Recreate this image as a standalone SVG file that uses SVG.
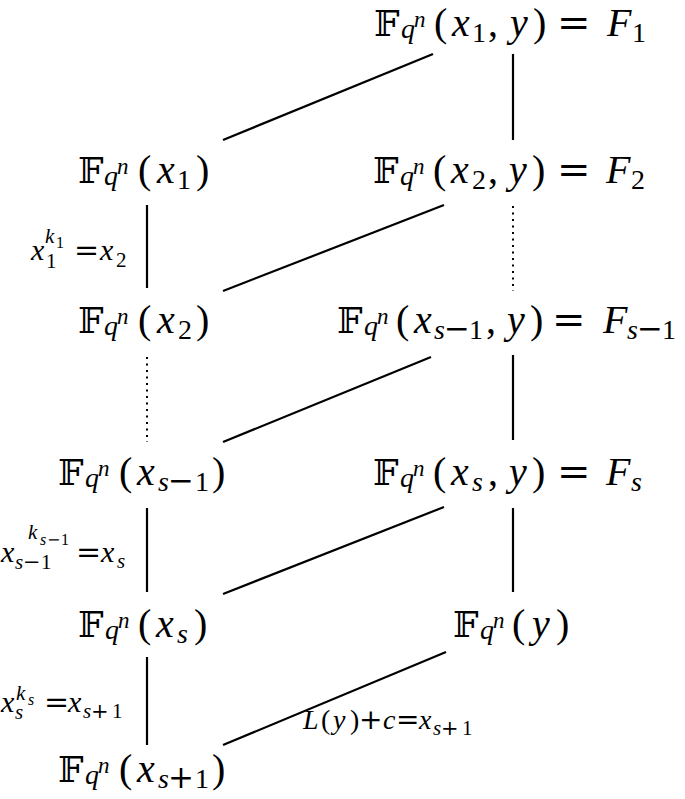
<svg xmlns="http://www.w3.org/2000/svg" width="685" height="799" viewBox="0 0 685 799">
<style>
text{font-family:"Liberation Serif","DejaVu Serif",serif;fill:#000}
.m{font-size:40px}
.bb{font-family:"DejaVu Serif","DejaVu Sans",serif;font-size:36px}
.op{font-family:"DejaVu Serif","DejaVu Sans",serif}
.i{font-style:italic}
.s{font-size:28px}
.ss{font-size:23px}
.sm{font-size:31px}
.lb{font-size:30px}
.l2{font-size:21px}
.l3{font-size:16px}
.e{stroke:#000;stroke-width:2.2;fill:none}
.d{stroke:#000;stroke-width:2;fill:none;stroke-dasharray:2 4.5}
</style>
<rect width="685" height="799" fill="#fff"/>
<g id="connectors">
<line class="e" x1="223" y1="140" x2="433" y2="54"/>
<line class="e" x1="513" y1="54" x2="513" y2="140"/>
<line class="e" x1="147" y1="205" x2="147" y2="288"/>
<line class="e" x1="223" y1="291" x2="444" y2="205"/>
<line class="d" x1="513" y1="206" x2="513" y2="291"/>
<line class="d" x1="147" y1="357" x2="147" y2="442"/>
<line class="e" x1="223" y1="442" x2="431" y2="357"/>
<line class="e" x1="513" y1="355" x2="513" y2="440"/>
<line class="e" x1="147" y1="508" x2="147" y2="592"/>
<line class="e" x1="223" y1="594" x2="444" y2="507"/>
<line class="e" x1="513" y1="508" x2="513" y2="592"/>
<line class="e" x1="147" y1="657" x2="147" y2="745"/>
<line class="e" x1="223" y1="745" x2="446" y2="652"/>
</g>
<g id="n1"><text class="m"><tspan class="bb" x="374" y="36">𝔽</tspan><tspan class="i s" x="401" y="38">q</tspan><tspan class="i ss" x="414" y="27">n</tspan><tspan x="434" y="36">(</tspan><tspan class="i" x="452" y="36">x</tspan><tspan class="s" x="472" y="42">1</tspan><tspan x="488" y="36">,</tspan><tspan class="i" x="510" y="36">y</tspan><tspan x="533" y="36">)</tspan><tspan class="op" x="557" y="36">=</tspan><tspan class="i" x="607" y="36">F</tspan><tspan class="s" x="632" y="42">1</tspan></text></g>
<g id="n2"><text class="m"><tspan class="bb" x="78" y="183">𝔽</tspan><tspan class="i s" x="104" y="185">q</tspan><tspan class="i ss" x="117" y="174">n</tspan><tspan x="138" y="183">(</tspan><tspan class="i" x="157" y="183">x</tspan><tspan class="s" x="177" y="189">1</tspan><tspan x="196" y="183">)</tspan></text></g>
<g id="n3"><text class="m"><tspan class="bb" x="373" y="183">𝔽</tspan><tspan class="i s" x="400" y="185">q</tspan><tspan class="i ss" x="413" y="174">n</tspan><tspan x="433" y="183">(</tspan><tspan class="i" x="451" y="183">x</tspan><tspan class="s" x="472" y="189">2</tspan><tspan x="488" y="183">,</tspan><tspan class="i" x="509" y="183">y</tspan><tspan x="532" y="183">)</tspan><tspan class="op" x="557" y="183">=</tspan><tspan class="i" x="606" y="183">F</tspan><tspan class="s" x="631" y="189">2</tspan></text></g>
<g id="n4"><text class="m"><tspan class="bb" x="78" y="333">𝔽</tspan><tspan class="i s" x="104" y="335">q</tspan><tspan class="i ss" x="117" y="324">n</tspan><tspan x="138" y="333">(</tspan><tspan class="i" x="157" y="333">x</tspan><tspan class="s" x="178" y="339">2</tspan><tspan x="196" y="333">)</tspan></text></g>
<g id="n5"><text class="m"><tspan class="bb" x="337" y="333">𝔽</tspan><tspan class="i s" x="364" y="335">q</tspan><tspan class="i ss" x="377" y="324">n</tspan><tspan x="396" y="333">(</tspan><tspan class="i" x="414" y="333">x</tspan><tspan class="i s" x="434" y="339">s</tspan><tspan class="op sm" x="444" y="339">−</tspan><tspan class="s" x="469" y="339">1</tspan><tspan x="486" y="333">,</tspan><tspan class="i" x="507" y="333">y</tspan><tspan x="530" y="333">)</tspan><tspan class="op" x="552" y="333">=</tspan><tspan class="i" x="603" y="333">F</tspan><tspan class="i s" x="627" y="339">s</tspan><tspan class="op sm" x="637" y="339">−</tspan><tspan class="s" x="662" y="339">1</tspan></text></g>
<g id="n6"><text class="m"><tspan class="bb" x="58" y="485">𝔽</tspan><tspan class="i s" x="85" y="487">q</tspan><tspan class="i ss" x="98" y="476">n</tspan><tspan x="119" y="485">(</tspan><tspan class="i" x="137" y="485">x</tspan><tspan class="i s" x="158" y="491">s</tspan><tspan class="op sm" x="168" y="491">−</tspan><tspan class="s" x="195" y="491">1</tspan><tspan x="212" y="485">)</tspan></text></g>
<g id="n7"><text class="m"><tspan class="bb" x="373" y="485">𝔽</tspan><tspan class="i s" x="400" y="487">q</tspan><tspan class="i ss" x="413" y="476">n</tspan><tspan x="433" y="485">(</tspan><tspan class="i" x="451" y="485">x</tspan><tspan class="i s" x="472" y="491">s</tspan><tspan x="488" y="485">,</tspan><tspan class="i" x="509" y="485">y</tspan><tspan x="532" y="485">)</tspan><tspan class="op" x="557" y="485">=</tspan><tspan class="i" x="606" y="485">F</tspan><tspan class="i s" x="631" y="491">s</tspan></text></g>
<g id="n8"><text class="m"><tspan class="bb" x="78" y="637">𝔽</tspan><tspan class="i s" x="105" y="639">q</tspan><tspan class="i ss" x="118" y="628">n</tspan><tspan x="138" y="637">(</tspan><tspan class="i" x="156" y="637">x</tspan><tspan class="i s" x="177" y="643">s</tspan><tspan x="194" y="637">)</tspan></text></g>
<g id="n9"><text class="m"><tspan class="bb" x="453" y="637">𝔽</tspan><tspan class="i s" x="480" y="639">q</tspan><tspan class="i ss" x="493" y="628">n</tspan><tspan x="512" y="637">(</tspan><tspan class="i" x="532" y="637">y</tspan><tspan x="556" y="637">)</tspan></text></g>
<g id="n10"><text class="m"><tspan class="bb" x="58" y="782">𝔽</tspan><tspan class="i s" x="85" y="784">q</tspan><tspan class="i ss" x="98" y="773">n</tspan><tspan x="119" y="782">(</tspan><tspan class="i" x="137" y="782">x</tspan><tspan class="i s" x="158" y="788">s</tspan><tspan class="op sm" x="168" y="788">+</tspan><tspan class="s" x="195" y="788">1</tspan><tspan x="212" y="782">)</tspan></text></g>
<g id="labels">
<text class="lb"><tspan class="i" x="31" y="260">x</tspan><tspan class="l2" x="46" y="268">1</tspan><tspan class="i l2" x="45" y="243">k</tspan><tspan class="l3" x="56" y="248">1</tspan><tspan class="op" x="74" y="260">=</tspan><tspan class="i" x="100" y="260">x</tspan><tspan class="l2" x="116" y="267">2</tspan></text>
<text class="lb"><tspan class="i" x="1" y="562">x</tspan><tspan class="i l2" x="15" y="569">s</tspan><tspan class="op l2" x="23" y="569">−</tspan><tspan class="l2" x="41" y="569">1</tspan><tspan class="i l2" x="28" y="539">k</tspan><tspan class="i l3" x="40" y="545">s</tspan><tspan class="op l3" x="47" y="545">−</tspan><tspan class="l3" x="61" y="545">1</tspan><tspan class="op" x="76" y="562">=</tspan><tspan class="i" x="101" y="562">x</tspan><tspan class="i l2" x="117" y="568">s</tspan></text>
<text class="lb"><tspan class="i" x="1" y="712">x</tspan><tspan class="i l2" x="15" y="719">s</tspan><tspan class="i l2" x="16" y="700">k</tspan><tspan class="i l3" x="28" y="705">s</tspan><tspan class="op" x="44" y="712">=</tspan><tspan class="i" x="68" y="712">x</tspan><tspan class="i l2" x="83" y="718">s</tspan><tspan class="op l2" x="91" y="718">+</tspan><tspan class="l2" x="112" y="718">1</tspan></text>
<text style="font-size:28px"><tspan class="i" x="303" y="729">L</tspan><tspan x="321" y="729">(</tspan><tspan class="i" x="333" y="729">y</tspan><tspan x="350" y="729">)</tspan><tspan class="op" x="359" y="729">+</tspan><tspan class="i" x="383" y="729">c</tspan><tspan class="op" x="396" y="729">=</tspan><tspan class="i" x="419" y="729">x</tspan><tspan class="i l2" x="433" y="735">s</tspan><tspan class="op l2" x="441" y="735">+</tspan><tspan class="l2" x="462" y="735">1</tspan></text>
</g>
</svg>
